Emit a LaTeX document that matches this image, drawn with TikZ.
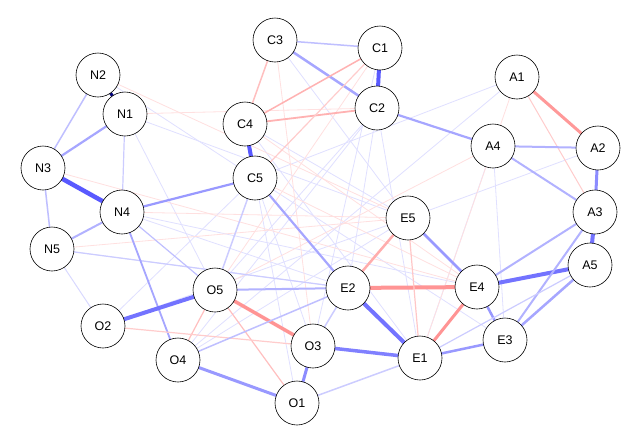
\documentclass[tikz,border=0pt]{standalone}
\usepackage{fontspec}
\setmainfont{Liberation Sans}
\begin{document}
\begin{tikzpicture}[x=1pt,y=-1pt,
  nd/.style={circle,draw=black,fill=white,minimum size=44pt,inner sep=0pt,font=\fontsize{12.5}{14}\selectfont,line width=0.6pt},
  p/.style={draw=blue!55!white,line width=#1},
  n/.style={draw=red!55!white,line width=#1},
  fp/.style={draw=blue!12,line width=0.8pt},
  fn/.style={draw=red!12,line width=0.8pt}]
\useasboundingbox (0,0) rectangle (640,440);
\fill[white] (0,0) rectangle (640,440);
\foreach \n/\x/\y in {N2/98/75,N1/125/114,N3/43/168,N4/122/212,N5/52/249,
 C3/275/40,C1/380/48,C2/377/108,C4/245/124,C5/255/178,
 A1/517/77,A4/493/146,A2/598/148,A3/595/212,A5/590/265,
 E5/408/218,E2/348/288,E4/477/287,E3/505/340,E1/420/358,
 O5/215/290,O2/103/326,O4/178/360,O3/313/346,O1/297/403}
 {\coordinate (p\n) at (\x,\y);}
\foreach \a/\b in {N1/E5,N4/E2,N4/E4,N5/E2,C4/E5,C4/E1,C5/O2,C5/E3,C2/O5,C2/E2,C2/E1,C1/O3,A1/C5,A1/O4,A4/E1,A4/E3,C3/E5,N1/O5,C5/O3,C4/O1,A2/E5,N2/C5,E5/O2,E5/O4,C2/O4}
 {\draw[fp] (p\a) -- (p\b);}
\foreach \a/\b in {N1/C2,N3/E4,N4/E5,N2/E5,C1/O5,C4/E4,C5/E4,A1/E1,N5/E5,C3/O3,A4/O5}
 {\draw[fn] (p\a) -- (p\b);}
\draw[draw=blue!50!black,line width=3pt] (pN2) -- (pN1);
\draw[p=4.5pt,draw=blue!65] (pN3) -- (pN4);
\draw[p=2.2pt,draw=blue!35] (pN1) -- (pN3);
\draw[p=1.5pt,draw=blue!25] (pN2) -- (pN3);
\draw[p=1.5pt,draw=blue!25] (pN3) -- (pN5);
\draw[p=2pt,draw=blue!30] (pN5) -- (pN4);
\draw[p=1.2pt,draw=blue!20] (pN1) -- (pN4);
\draw[p=1.2pt,draw=blue!20] (pN5) -- (pE2);
\draw[p=1pt,draw=blue!15] (pN5) -- (pO2);
\draw[p=1.2pt,draw=blue!25] (pN4) -- (pO5);
\draw[p=1.8pt,draw=blue!35] (pN4) -- (pO4);
\draw[p=2.2pt,draw=blue!40] (pN4) -- (pC5);
\draw[p=4pt,draw=blue!65] (pC1) -- (pC2);
\draw[p=2.5pt,draw=blue!35] (pC3) -- (pC2);
\draw[p=1.5pt,draw=blue!25] (pC3) -- (pC1);
\draw[p=4pt,draw=blue!65] (pC4) -- (pC5);
\draw[n=1.5pt,draw=red!25] (pC3) -- (pC4);
\draw[n=1.5pt,draw=red!30] (pC1) -- (pC4);
\draw[n=1.8pt,draw=red!30] (pC2) -- (pC4);
\draw[n=1.2pt,draw=red!20] (pC1) -- (pC5);
\draw[p=2.2pt,draw=blue!35] (pC2) -- (pA4);
\draw[n=3pt,draw=red!40] (pA1) -- (pA2);
\draw[n=1pt,draw=red!20] (pA1) -- (pA3);
\draw[p=3pt,draw=blue!45] (pA2) -- (pA3);
\draw[p=4pt,draw=blue!55] (pA3) -- (pA5);
\draw[p=2pt,draw=blue!30] (pA4) -- (pA2);
\draw[p=2pt,draw=blue!30] (pA4) -- (pA3);
\draw[p=2.2pt,draw=blue!35] (pC5) -- (pE2);
\draw[n=4pt,draw=red!42] (pE2) -- (pE4);
\draw[n=2.5pt,draw=red!32] (pE5) -- (pE2);
\draw[p=2.5pt,draw=blue!40] (pE5) -- (pE4);
\draw[n=3pt,draw=red!42] (pE4) -- (pE1);
\draw[n=1.2pt,draw=red!22] (pE5) -- (pE1);
\draw[p=4pt,draw=blue!55] (pE2) -- (pE1);
\draw[p=2.5pt,draw=blue!40] (pE4) -- (pE3);
\draw[p=2.5pt,draw=blue!40] (pE1) -- (pE3);
\draw[p=4pt,draw=blue!55] (pA5) -- (pE4);
\draw[p=2.5pt,draw=blue!35] (pA5) -- (pE3);
\draw[p=2pt,draw=blue!30] (pA3) -- (pE3);
\draw[p=2pt,draw=blue!30] (pA3) -- (pE4);
\draw[p=3.5pt,draw=blue!50] (pO3) -- (pE1);
\draw[p=4pt,draw=blue!55] (pO5) -- (pO2);
\draw[n=3.5pt,draw=red!42] (pO5) -- (pO3);
\draw[p=2pt,draw=blue!30] (pO5) -- (pE2);
\draw[n=1.2pt,draw=red!25] (pO5) -- (pO4);
\draw[n=1.2pt,draw=red!25] (pO5) -- (pO1);
\draw[n=1.2pt,draw=red!20] (pO2) -- (pO3);
\draw[p=3pt,draw=blue!45] (pO3) -- (pO1);
\draw[p=3pt,draw=blue!40] (pO4) -- (pO1);
\draw[p=1.5pt,draw=blue!20] (pO1) -- (pE1);
\draw[p=1.5pt,draw=blue!20] (pO3) -- (pE2);
\draw[p=1.5pt,draw=blue!25] (pO4) -- (pE2);
\draw[p=1.5pt,draw=blue!20] (pO5) -- (pC5);
\draw[p=1.2pt,draw=blue!20] (pE1) -- (pA5);
\foreach \n in {N2,N1,N3,N4,N5,C3,C1,C2,C4,C5,A1,A4,A2,A3,A5,E5,E2,E4,E3,E1,O5,O2,O4,O3,O1}
 {\node[nd] (\n) at (p\n) {\n};}
\end{tikzpicture}
\end{document}
